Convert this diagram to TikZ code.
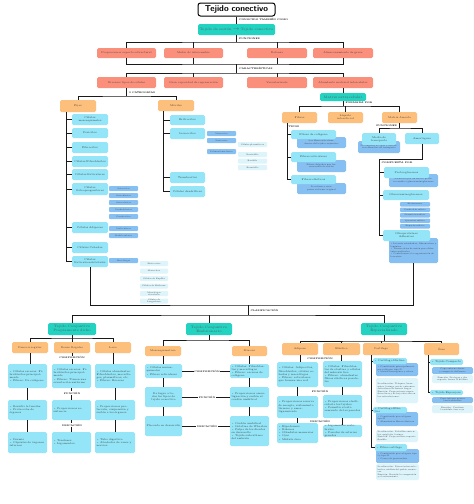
\documentclass[tikz,border=0pt]{standalone}
\usetikzlibrary{calc}
\definecolor{salm}{HTML}{FA907C}
\definecolor{orng}{HTML}{FDBF7C}
\definecolor{teal1}{HTML}{22D3C2}
\definecolor{cyan1}{HTML}{93E5F7}
\definecolor{blue1}{HTML}{86C0F2}
\definecolor{ligh}{HTML}{DDF4FB}
\newcommand\bx[7]{%
 \pgfmathsetmacro\bxw{#5-#3}\pgfmathsetmacro\bxh{#6-#4}%
 \pgfmathsetmacro\bxcx{(#3+#5)/2}\pgfmathsetmacro\bxcy{(#4+#6)/2}%
 \pgfmathsetmacro\bxtw{max(#5-#3-3,1)}%
 \node[#2, minimum width=\bxw pt, minimum height=\bxh pt, text width=\bxtw pt] (#1) at (\bxcx,\bxcy) {#7};}
\newcommand\bl[1]{\textbullet~#1}
\tikzset{
 bxs/.style={rounded corners=1.5pt, inner sep=0.3pt, align=center, font=\fontsize{2.6}{3.1}\selectfont, text=black!75},
 ttl/.style={bxs, draw=black, line width=1pt, fill=white, rounded corners=2.5pt, font=\fontsize{8.5}{9}\selectfont\bfseries\sffamily, text=black},
 sal/.style={bxs, fill=salm},
 org/.style={bxs, fill=orng},
 tea/.style={bxs, fill=teal1, font=\fontsize{3.4}{4}\selectfont, text=black!65},
 cya/.style={bxs, fill=cyan1},
 blu/.style={bxs, fill=blue1},
 lig/.style={bxs, fill=ligh},
 lst/.style={align=left},
 tny/.style={font=\fontsize{2.1}{2.5}\selectfont},
 sub/.style={font=\fontsize{2.0}{2.3}\selectfont, rounded corners=0.8pt},
 lbl/.style={font=\fontsize{2.3}{2.6}\selectfont\bfseries, inner sep=0.4pt, text=black},
 lblw/.style={lbl, fill=white},
 ln/.style={draw=black!90, line width=1pt},
}
\begin{document}
\begin{tikzpicture}[x=1pt,y=-1pt]
\useasboundingbox (0,0) rectangle (474,504);
\fill[white] (0,0) rectangle (474,504);

% ---------- top ----------
\bx{title}{ttl}{198}{3}{275}{16}{Tejido conectivo}
\bx{syn}{tea}{198}{24}{275}{35}{Tejido de sostén $\rightarrow$ Tejido conectivo}

\bx{f1}{sal}{97}{48}{156}{58}{Proporcionar soporte estructural}
\bx{f2}{sal}{164}{48}{223}{58}{Medio de intercambio}
\bx{f3}{sal}{247}{48}{307}{58}{Defensa}
\bx{f4}{sal}{313}{48}{373}{58}{Almacenamiento de grasa}

\bx{c1}{sal}{97}{77}{156}{88}{Diversos tipos de células}
\bx{c2}{sal}{164}{77}{223}{88}{Gran capacidad de regeneración}
\bx{c3}{sal}{247}{77}{307}{88}{Vascularizado}
\bx{c4}{sal}{313}{77}{373}{88}{Abundante material intercelular}

% ---------- Fijas ----------
\bx{fij}{org}{60}{100}{96}{112}{Fijas}
\bx{fc1}{cya}{72}{114}{108}{125}{Células\\mesenquimales}
\bx{fc2}{cya}{72}{128}{108}{138}{Pericitos}
\bx{fc3}{cya}{72}{142}{108}{153}{Fibrocitos}
\bx{fc4}{cya}{72}{156}{108}{167}{Células Fibroblastos}
\bx{fc5}{cya}{72}{169}{108}{180}{Células Reticulares}
\bx{fc6}{cya}{72}{183}{108}{195}{Células\\Osteoprogenitoras}
\bx{fc7}{cya}{72}{222}{108}{233}{Células Adiposas}
\bx{fc8}{cya}{72}{242}{108}{253}{Células Cebadas}
\bx{fc9}{cya}{72}{256}{108}{267}{Células\\Reticuloendoteliales}

\bx{o1}{blu,sub}{109}{186}{138}{191}{Osteocitos}
\bx{o2}{blu,sub}{109}{193}{138}{198}{Osteoblastos}
\bx{o3}{blu,sub}{109}{200}{138}{205}{Osteoclastos}
\bx{o4}{blu,sub}{109}{207}{138}{212}{Condroblastos}
\bx{o5}{blu,sub}{109}{214}{138}{219}{Condrocitos}
\bx{a1}{blu,sub}{109}{226}{138}{231}{Uniloculares}
\bx{a2}{blu,sub}{109}{233}{138}{238}{Multiloculares}
\bx{m0}{blu,sub}{109}{258}{138}{263}{Macrófagos}
\bx{mm1}{lig,sub}{140}{261}{168}{266}{Histiocitos}
\bx{mm2}{lig,sub}{140}{268.5}{168}{273.5}{Monocitos}
\bx{mm3}{lig,sub}{140}{276}{168}{281}{Células de Kupffer}
\bx{mm4}{lig,sub}{140}{283.5}{168}{288.5}{Células de Hofbauer}
\bx{mm5}{lig,sub}{140}{291}{168}{296}{Macrófagos alveolares}
\bx{mm6}{lig,sub}{140}{298.5}{168}{303.5}{Células de Langerhans}

% ---------- Moviles ----------
\bx{mov}{org}{158}{100}{194}{111}{Móviles}
\bx{mc1}{cya}{170}{115}{205}{125}{Eritrocitos}
\bx{mc2}{cya}{170}{128}{205}{139}{Leucocitos}
\bx{mc3}{cya}{170}{172}{205}{183}{Trombocitos}
\bx{mc4}{cya}{170}{186}{205}{197}{Células dendríticas}
\bx{l1}{blu,sub}{207}{131}{236}{136}{Monocitos}
\bx{l2}{blu,sub}{207}{138}{236}{143}{Linfocitos}
\bx{l3}{blu,sub}{207}{149}{236}{154}{Polimorfonucleares}
\bx{p1}{lig,sub}{238}{142}{267}{147}{Células plasmáticas}
\bx{p2}{lig,sub}{238}{152}{267}{157}{Neutrófilo}
\bx{p3}{lig,sub}{238}{158.5}{267}{163.5}{Basófilo}
\bx{p4}{lig,sub}{238}{165}{267}{170}{Eosinófilo}

% ---------- Matriz extracelular ----------
\bx{mx}{tea}{320}{93}{366}{101}{Matriz extracelular}
\bx{fib}{org}{282}{112}{317}{123}{Fibras}
\bx{liq}{org}{328}{112}{363}{123}{Líquido\\intersticial}
\bx{mam}{org}{382}{112}{417}{123}{Matriz Amorfa}

\bx{fb1d}{blu,tny}{297}{137}{346}{148}{Las fibras más abundantes del tejido conjuntivo}
\bx{fb1}{cya}{291}{130}{336}{139}{Fibras de colágeno}
\bx{fb2d}{blu,tny}{297}{160}{346}{172}{Fibras delgadas que forman redes de sostén}
\bx{fb2}{cya}{291}{152}{336}{162}{Fibras reticulares}
\bx{fb3d}{blu,tny}{297}{183}{346}{194}{Se estiran y recuperan su forma original}
\bx{fb3}{cya}{291}{175}{336}{184}{Fibras elásticas}

\bx{mdd}{blu,tny}{358}{141}{400}{153}{Se compone de agua y sustancias disueltas de transporte}
\bx{md}{cya}{362}{133}{396}{145}{Medio de\\transporte}
\bx{am}{cya}{405}{133}{439}{144}{Amortiguar}

\bx{pgd}{blu,tny}{389}{174}{438}{187}{Formados por un núcleo proteico unido a glucosaminoglucanos}
\bx{pg}{cya}{384}{167}{429}{178}{Proteoglucanos}
\bx{gg}{cya}{383}{190}{429}{200}{Glucosaminoglucanos}
\bx{g1}{blu,sub}{400}{202}{430}{206.5}{Hialuronano}
\bx{g2}{blu,sub}{400}{207.5}{430}{212}{Condroitín sulfato}
\bx{g3}{blu,sub}{400}{213}{430}{217.5}{Dermatán sulfato}
\bx{g4}{blu,sub}{400}{218.5}{430}{223}{Queratán sulfato}
\bx{g5}{blu,sub}{400}{224}{430}{228.5}{Heparán sulfato}
\bx{gpd}{blu,lst,tny}{389}{238}{438}{263}{\bl{Las más estudiadas: fibronectina y laminina}\\\bl{Tienen sitios de unión para diferentes moléculas}\\\bl{Contribuyen a la organización de la matriz}}
\bx{gp}{cya}{383}{230}{430}{241}{Glicoproteínas\\Adhesivas}

% ---------- Clasificacion ----------
\bx{tcp}{tea}{48}{323}{96}{335}{Tejido Conjuntivo\\Propiamente dicho}
\bx{tem}{tea}{186}{323}{232}{335}{Tejido Conjuntivo\\Embrionario}
\bx{tce}{tea}{361}{323}{407}{335}{Tejido Conjuntivo\\Especializado}

% Propiamente dicho
\bx{di}{org}{12}{342}{48}{353}{Denso irregular}
\bx{dr}{org}{54}{342}{90}{353}{Denso Regular}
\bx{lx}{org}{95}{342}{131}{353}{Laxo}
\bx{dic}{cya,lst}{8}{364}{47}{388}{\bl{Células escasas: Fibroblastos principalmente}\\\bl{Fibras: De colágeno}}
\bx{drc}{cya,lst}{52}{364}{91}{388}{\bl{Células escasas: Fibroblastos principalmente}\\\bl{Fibras: Tienen una orientación uniforme}}
\bx{lxc}{cya,lst}{95}{364}{135}{388}{\bl{Células abundantes: Fibroblastos, macrófagos, plasmáticas, etc.}\\\bl{Fibras: Escasas}}
\bx{dif}{cya,lst}{8}{400}{47}{420}{\bl{Resistir la tensión}\\\bl{Protección de órganos}}
\bx{drf}{cya,lst}{52}{400}{91}{420}{\bl{Proporcionar resistencia}}
\bx{lxf}{cya,lst}{95}{400}{135}{420}{\bl{Proporcionar protección, suspensión y sostén a los órganos}}
\bx{diu}{cya,lst}{8}{432}{47}{453}{\bl{Dermis}\\\bl{Cápsulas de órganos internos}}
\bx{dru}{cya,lst}{52}{432}{91}{453}{\bl{Tendones}\\\bl{Ligamentos}}
\bx{lxu}{cya,lst}{95}{432}{135}{453}{\bl{Tubo digestivo}\\\bl{Alrededor de vasos y nervios}}

% Embrionario
\bx{mes}{org}{145}{346}{181}{356}{Mesenquimatoso}
\bx{muc}{org}{232}{346}{267}{356}{Mucoso}
\bx{mesc}{cya,lst}{145}{364}{182}{378}{\bl{Células mesenquimales}\\\bl{Fibras reticulares}}
\bx{mucc}{cya,lst}{230}{364}{269}{378}{\bl{Células: Fibroblastos y macrófagos}\\\bl{Fibras: escasas de colágeno}}
\bx{mesf}{cya}{145}{387}{182}{407}{Da lugar a todos los tipos de tejido conectivo}
\bx{mucf}{cya,lst}{230}{387}{269}{407}{\bl{Proporcionar amortiguación y sostén al cordón umbilical}}
\bx{mesu}{cya}{145}{416}{182}{436}{Placenta en desarrollo}
\bx{mucu}{cya,lst}{230}{416}{269}{446}{\bl{Cordón umbilical}\\\bl{Gelatina de Wharton}\\\bl{Pulpa de los dientes en desarrollo}\\\bl{Tejido subcutáneo del embrión}}

% Especializado
\bx{adi}{org}{282}{343}{318}{355}{Adiposo}
\bx{ela}{org}{323}{343}{360}{355}{Elástico}
\bx{car}{org}{363}{343}{399}{355}{Cartílago}
\bx{ose}{org}{424}{343}{459}{355}{Óseo}
\bx{adic}{cya,lst}{277}{362}{318}{387}{\bl{Células: Adipocitos, fibroblastos, células cebadas y macrófagos}\\\bl{Fibras: reticulares que forman una red}}
\bx{elac}{cya,lst}{323}{361}{362}{387}{\bl{Células: Fibroblastos de elastina y células del músculo liso}\\\bl{Fibras: abundantes fibras elásticas paralelas}}
\bx{adif}{cya,lst}{277}{396}{318}{418}{\bl{Proporcionar reserva de energía, aislamiento térmico y amortiguamiento}}
\bx{elaf}{cya,lst}{323}{395}{362}{418}{\bl{Proporcionar elasticidad a los tejidos}\\\bl{Permitir el estiramiento de las paredes}}
\bx{adiu}{cya,lst}{277}{423}{318}{443}{\bl{Hipodermis}\\\bl{Riñones}\\\bl{Glándulas mamarias}\\\bl{Ojos}\\\bl{Médula ósea}}
\bx{elau}{cya,lst}{323}{425}{362}{437}{\bl{Ligamentos vertebrales}\\\bl{Paredes de arterias grandes}}

\bx{ch1d}{blu,lst,tny}{376}{363}{418}{376}{\bl{Constituido principalmente por colágeno tipo II}\\\bl{Matriz homogénea y vítrea}}
\bx{ch1}{cya,lst}{373}{358}{407}{364}{\bl{Cartílago Hialino}}
\bx{ch1l}{lig,lst,tny}{376}{378}{418}{403}{Localización: Tráquea, bronquios, laringe, nariz, extremos articulares de huesos largos.\\Función: Proporcionar superficies lisas y de baja fricción en las articulaciones.}
\bx{ch2d}{blu,lst,tny}{376}{412}{418}{426}{\bl{Constituido por colágeno tipo II}\\\bl{Abundantes fibras elásticas}}
\bx{ch2}{cya,lst}{373}{407}{407}{413}{\bl{Cartílago Elástico}}
\bx{ch2l}{lig,lst,tny}{376}{430}{418}{442}{Localización: Pabellón auricular, epiglotis, laringe.\\Función: Proporcionar soporte flexible.}
\bx{ch3d}{blu,lst,tny}{376}{449}{419}{463}{\bl{Constituido por colágeno tipo I y tipo II}\\\bl{Carece de pericondrio}}
\bx{ch3}{cya,lst}{375}{444}{407}{451}{\bl{Fibrocartílago}}
\bx{ch3l}{lig,lst,tny}{376}{464}{419}{480}{Localización: Discos intervertebrales, sínfisis del pubis, meniscos.\\Función: Resistir la compresión y el estiramiento.}

\bx{oc1d}{blu,tny}{432}{367}{473}{374}{Capa externa densa y compacta del hueso}
\bx{oc1}{cya,lst}{430}{359}{463}{365}{\bl{Tejido Compacto}}
\bx{oc1l}{lig,tny}{432}{375}{473}{383}{Función: Proteger y dar soporte; forma la diáfisis}
\bx{oc2d}{blu,tny}{432}{397}{473}{403}{Capa interna porosa con trabéculas}
\bx{oc2}{cya,lst}{430}{390}{463}{395}{\bl{Tejido Esponjoso}}
\bx{oc2l}{lig,tny}{432}{405}{473}{413}{Función: Contiene la médula ósea roja}

% ---------- connectors ----------
\draw[ln] (title) -- (syn);
\coordinate (b1) at (236.5,42);
\draw[ln] (syn) -- (b1);
\draw[ln] (f1.north) |- (b1) -| (f4.north);
\draw[ln] (f2.north) -- (f2.north |- b1);
\draw[ln] (f3.north) -- (f3.north |- b1);
\coordinate (b2) at (236.5,64);
\coordinate (b3) at (236.5,73);
\draw[ln] (f1.south) |- (b2) -| (f4.south);
\draw[ln] (f2.south) -- (f2.south |- b2);
\draw[ln] (f3.south) -- (f3.south |- b2);
\draw[ln] (b2) -- (b3);
\draw[ln] (c1.north) |- (b3) -| (c4.north);
\draw[ln] (c2.north) -- (c2.north |- b3);
\draw[ln] (c3.north) -- (c3.north |- b3);
\coordinate (b4) at (126.5,96);
\draw[ln] (c1.south) -- (b4);
\draw[ln] (fij.north) |- (b4) -| (mov.north);

\coordinate (sf) at (66,112);
\foreach \n in {fc1,fc2,fc3,fc4,fc5,fc6,fc7,fc8,fc9} \draw[ln] (sf) |- (\n.west);
\coordinate (sm) at (163,111);
\foreach \n in {mc1,mc2,mc3,mc4} \draw[ln] (sm) |- (\n.west);

\draw[ln] (c4.south) -- (mx.north);
\coordinate (b5) at (343,106);
\draw[ln] (mx.south) -- (b5);
\draw[ln] (fib.north) |- (b5) -| (mam.north);
\draw[ln] (liq.north) -- (liq.north |- b5);
\coordinate (sfb) at (287,123);
\foreach \n in {fb1,fb2,fb3} \draw[ln] (sfb) |- (\n.west);
\coordinate (b6) at (399.5,128);
\draw[ln] (mam.south) -- (b6);
\draw[ln] (md.north) |- (b6) -| (am.north);
\coordinate (b7) at (379,159);
\draw[ln] (am.south) |- (b7);
\foreach \n in {pg,gg,gp} \draw[ln] (b7) |- (\n.west);

\coordinate (cl) at (248,305);
\coordinate (cl2) at (248,315);
\draw[ln] (fc9.south) |- (cl) -| (gpd.south);
\draw[ln] (cl) -- (cl2);
\draw[ln] (tcp.north) |- (cl2) -| (tce.north);
\draw[ln] (tem.north) -- (tem.north |- cl2);

\coordinate (b8) at (72,338);
\draw[ln] (tcp.south) -- (b8);
\draw[ln] (di.north) |- (b8) -| (lx.north);
\draw[ln] (dr.north) -- (dr.north |- b8);
\foreach \a/\b in {di/dic,dic/dif,dif/diu,dr/drc,drc/drf,drf/dru,lx/lxc,lxc/lxf,lxf/lxu,mes/mesc,mesc/mesf,mesf/mesu,muc/mucc,mucc/mucf,mucf/mucu,adi/adic,adic/adif,adif/adiu,ela/elac,elac/elaf,elaf/elau}
  \draw[ln] (\a.south) -- (\a.south |- \b.north);

\coordinate (b9) at (209,340);
\draw[ln] (tem.south) -- (b9);
\draw[ln] (mes.north) |- (b9) -| (muc.north);
\draw[ln] (mesc.east) -- (mesc.east -| mucc.west);
\draw[ln] (mesf.east) -- (mesf.east -| mucf.west);
\draw[ln] (mesu.east) -- (mesu.east -| mucu.west);

\coordinate (b10) at (384,341);
\draw[ln] (tce.south) -- (b10);
\draw[ln] (adi.north) |- (b10) -| (ose.north);
\draw[ln] (ela.north) -- (ela.north |- b10);
\draw[ln] (car.north) -- (car.north |- b10);
\coordinate (sc) at (371,355);
\foreach \n in {ch1,ch2,ch3} \draw[ln] (sc) |- (\n.west);
\coordinate (so) at (428,355);
\foreach \n in {oc1,oc2} \draw[ln] (so) |- (\n.west);

% ---------- labels ----------
\node[lbl, anchor=west] (lb1) at (238.5,19.5) {CONOCIDO TAMBIÉN COMO};
\node[lbl, anchor=west] (lb2) at (238.5,38.5) {FUNCIONES};
\node[lbl, anchor=west] (lb3) at (238.5,68.5) {CARACTERÍSTICAS};
\node[lbl, anchor=west] (lb4) at (128.5,92) {3 CATEGORÍAS};
\node[lbl, anchor=west] (lb5) at (345,103) {FORMADA POR};
\node[lbl, anchor=west] (lb6) at (288,127) {TIPOS};
\node[lbl, anchor=east] (lb7) at (397.5,125.5) {FUNCIONES};
\node[lbl, anchor=west] (lb8) at (381,162.5) {COMPUESTA POR};
\node[lbl, anchor=west] (lb9) at (250,310) {CLASIFICACIÓN};
\node[lblw] (lb10) at (72,357.5) {COMPOSICIÓN};
\node[lblw] (lb11) at (72,393) {FUNCIÓN};
\node[lblw] (lb12) at (72,425) {UBICACIÓN};
\node[lblw] (lb13) at (207,371) {COMPOSICIÓN};
\node[lblw] (lb14) at (207,397) {FUNCIÓN};
\node[lblw] (lb15) at (207,426) {UBICACIÓN};
\node[lblw] (lb16) at (320,358.5) {COMPOSICIÓN};
\node[lblw] (lb17) at (320,391) {FUNCIÓN};
\node[lblw] (lb18) at (320,421) {UBICACIÓN};
\end{tikzpicture}
\end{document}
